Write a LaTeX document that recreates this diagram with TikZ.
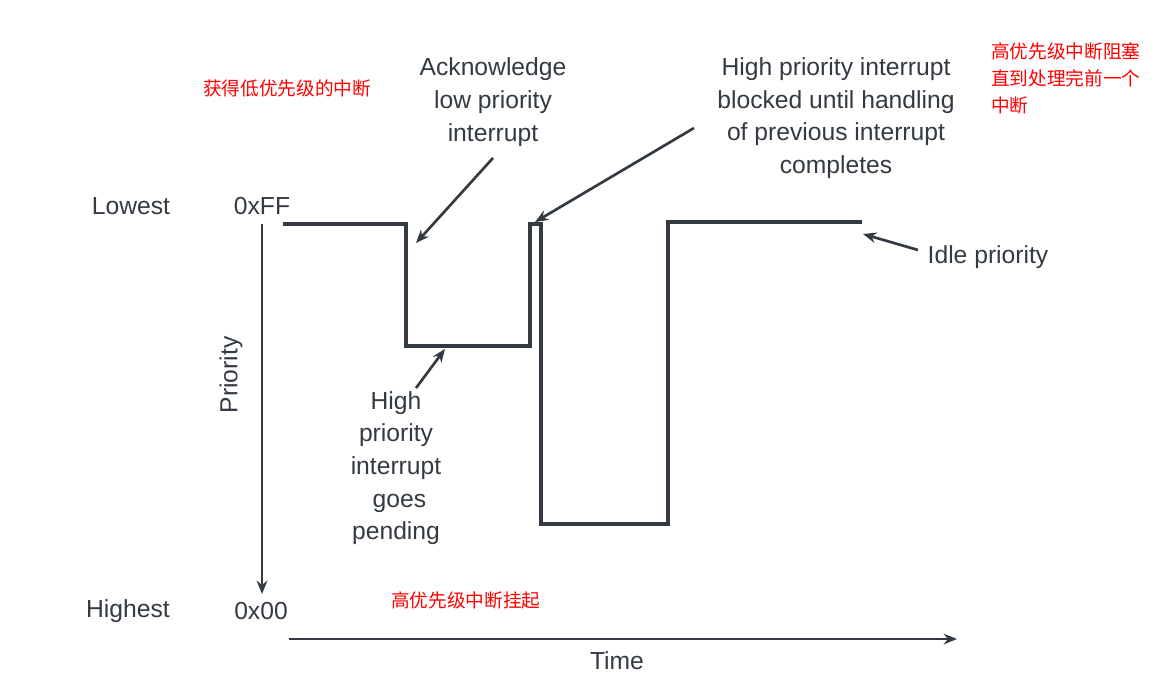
\documentclass[tikz,border=0pt]{standalone}
\usepackage{fontspec}
\setmainfont{Liberation Sans}
\newfontfamily\lib{Liberation Sans}
\newfontfamily\cjk{Noto Sans CJK SC}
\usetikzlibrary{arrows.meta}
\definecolor{ink}{HTML}{333A42}
\begin{document}
\begin{tikzpicture}[x=0.75pt,y=-0.75pt,
  lbl/.style={text=ink,font=\lib\fontsize{18.5}{24.5}\selectfont,inner sep=0pt,align=center},
  red/.style={text=red,font=\cjk\fontsize{14}{20.5}\selectfont,inner sep=0pt,align=left},
  wave/.style={draw=ink,line width=2.6pt},
  ptr/.style={draw=ink,line width=2pt,-{Stealth[length=10pt,width=8pt]}}]
\useasboundingbox (0,0) rectangle (1169,683);
\draw[wave] (283,224) -- (406,224) -- (406,346) -- (530,346) -- (530,224) -- (541,224) -- (541,524) -- (668,524) -- (668,222) -- (862,222);
\coordinate (pa) at (262,224); \coordinate (pb) at (262,594);
\draw[ptr] (pa) -- (pb);
\coordinate (ta) at (289,639); \coordinate (tb) at (957,639);
\draw[ptr] (ta) -- (tb);
\node[lbl] (lo) at (131,206) {Lowest};
\node[lbl] (ff) at (262,206) {0xFF};
\node[lbl] (hi) at (128,611) {Highest};
\node[lbl] (zz) at (261,611) {0x00};
\node[lbl] (time) at (617,661) {Time};
\node[lbl,rotate=90] (prio) at (231,375) {Priority};
\node[lbl] (ack) at (493,102) {Acknowledge\\low priority\\interrupt};
\node[lbl] (blk) at (836,118) {High priority interrupt\\blocked until handling\\of previous interrupt\\completes};
\node[lbl] (idle) at (988,257) {Idle priority};
\node[lbl] (pend) at (396,468) {High\\priority\\interrupt\\\ goes\\pending};
\coordinate (a1) at (493,158); \coordinate (a2) at (416,243);
\coordinate (b1) at (694,128); \coordinate (b2) at (535,222);
\coordinate (c1) at (918,250); \coordinate (c2) at (863,234);
\coordinate (d1) at (416,388); \coordinate (d2) at (445,349);
\draw[ptr] (a1) -- (a2);
\draw[ptr] (b1) -- (b2);
\draw[ptr] (c1) -- (c2);
\draw[ptr] (d1) -- (d2);
\node[red,anchor=west] (r1) at (203,88) {获得低优先级的中断};
\node[red,anchor=north west] (r2) at (991,42) {高优先级中断阻塞\\直到处理完前一个\\中断};
\node[red,anchor=west] (r3) at (391,600) {高优先级中断挂起};
\end{tikzpicture}
\end{document}
